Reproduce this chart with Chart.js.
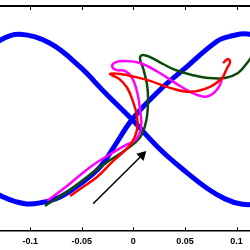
<!DOCTYPE html>
<html>
<head>
<meta charset="utf-8">
<script src="https://cdn.jsdelivr.net/npm/chart.js@4"></script>
<style>
  html, body { margin: 0; padding: 0; background: #fff; overflow: hidden; }
  #wrap { width: 250px; height: 250px; }
</style>
</head>
<body>
<div id="wrap"><canvas id="chart"></canvas></div>
<script>
// tick values / labels of the x axis
const tickValues = [-0.1, -0.05, 0, 0.05, 0.1];
const tickLabels = ['-0.1', '-0.05', '0', '0.05', '0.1'];

// blue figure-eight (runs past both side edges)
const blueX = [-0.1534, -0.1486, -0.1389, -0.1292, -0.1098, -0.0807, -0.0516, -0.0274, -0.0013,
  0.0258, 0.0501, 0.0724, 0.0889, 0.1034, 0.1179, 0.1344, 0.1499, 0.1547, 0.1470, 0.1305,
  0.1131, 0.0937, 0.0811, 0.0481, 0.0239, -0.0013, -0.0197, -0.0323, -0.0516, -0.0710,
  -0.0904, -0.1049, -0.1243, -0.1389, -0.1505, -0.1534];
const blueY = [-0.0010, 0.0378, 0.0649, 0.0765, 0.0823, 0.0736, 0.0504, 0.0252, -0.0010,
  -0.0300, -0.0514, -0.0688, -0.0785, -0.0833, -0.0833, -0.0736, -0.0446, -0.0010, 0.0475, 0.0717,
  0.0823, 0.0804, 0.0756, 0.0475, 0.0262, -0.0010, -0.0291, -0.0475, -0.0640, -0.0766,
  -0.0824, -0.0833, -0.0775, -0.0669, -0.0397, -0.0010];

// red trajectory
const redX = [-0.0613, -0.0516, -0.0352, -0.0197, -0.0090, -0.0013, 0.0036, 0.0036, -0.0003,
  -0.0060, -0.0138, -0.0226, -0.0129, 0.0016, 0.0162, 0.0356, 0.0549, 0.0743, 0.0859, 0.0908,
  0.0937, 0.0918, 0.0869];
const redY = [-0.0756, -0.0688, -0.0572, -0.0417, -0.0320, -0.0233, -0.0107, 0.0019, 0.0165,
  0.0301, 0.0388, 0.0436, 0.0436, 0.0407, 0.0368, 0.0300, 0.0262, 0.0310, 0.0397, 0.0494,
  0.0552, 0.0581, 0.0543];

// magenta trajectory
const magX = [-0.0836, -0.0643, -0.0420, -0.0226, -0.0080, 0.0026, 0.0075, 0.0065, 0.0036,
  -0.0013, -0.0080, -0.0167, -0.0206, -0.0168, -0.0080, 0.0065, 0.0239, 0.0404, 0.0568,
  0.0694, 0.0782, 0.0840, 0.0859];
const magY = [-0.0804, -0.0659, -0.0475, -0.0349, -0.0262, -0.0203, -0.0087, 0.0087, 0.0262,
  0.0397, 0.0465, 0.0475, 0.0514, 0.0552, 0.0562, 0.0543, 0.0455, 0.0349, 0.0252,
  0.0213, 0.0252, 0.0329, 0.0397];

// dark green trajectory
const greenX = [-0.0856, -0.0643, -0.0449, -0.0255, -0.0080, 0.0065, 0.0123, 0.0142, 0.0133,
  0.0094, 0.0065, 0.0084, 0.0162, 0.0288, 0.0404, 0.0568, 0.0723, 0.0888, 0.1014, 0.1102, 0.1179];
const greenY = [-0.0853, -0.0717, -0.0572, -0.0426, -0.0310, -0.0184, -0.0029, 0.0155, 0.0329,
  0.0494, 0.0581, 0.0620, 0.0601, 0.0533, 0.0475, 0.0426, 0.0397, 0.0397, 0.0446, 0.0543, 0.0649];

// arrow shaft and head
const arrowX = [-0.0390, 0.0084];
const arrowY = [-0.0833, -0.0359];
const headX = [0.0084];
const headY = [-0.0359];

function pts(xs, ys) {
  return xs.map((x, i) => ({ x: x, y: ys[i] }));
}

// top frame line + ticks drawn inward on the top and bottom frame lines
const frameTicks = {
  id: 'frameTicks',
  afterDraw(chart) {
    const ctx = chart.ctx;
    const a = chart.chartArea;
    const sx = chart.scales.x;
    ctx.save();
    ctx.fillStyle = '#000';
    ctx.fillRect(0, Math.round(a.top) - 1, chart.width, 2);
    tickValues.forEach(v => {
      const px = Math.round(sx.getPixelForValue(v));
      ctx.fillRect(px, a.top, 1, 4);
      ctx.fillRect(px, a.bottom - 4, 1, 4);
    });
    ctx.restore();
  }
};

function lineSet(data, color, width, order) {
  return {
    data: data,
    showLine: true,
    borderColor: color,
    backgroundColor: color,
    borderWidth: width,
    pointRadius: 0,
    tension: 0.4,
    order: order
  };
}

new Chart(document.getElementById('chart'), {
  type: 'scatter',
  data: {
    datasets: [
      lineSet(pts(blueX, blueY), '#0000ff', 5, 10),
      lineSet(pts(greenX, greenY), '#0a4a0a', 2.5, 3),
      lineSet(pts(magX, magY), '#ff00ff', 2.5, 2),
      lineSet(pts(redX, redY), '#ff0000', 2.5, 1),
      {
        data: pts(arrowX, arrowY),
        showLine: true,
        borderColor: '#000',
        borderWidth: 1.5,
        pointRadius: 0,
        tension: 0,
        order: 0
      },
      {
        data: pts(headX, headY),
        showLine: false,
        pointStyle: 'triangle',
        pointRotation: 45,
        pointRadius: 6,
        backgroundColor: '#000',
        borderColor: '#000',
        borderWidth: 0,
        order: 0
      }
    ]
  },
  options: {
    responsive: true,
    maintainAspectRatio: false,
    animation: false,
    layout: { autoPadding: false, padding: { top: 6, bottom: -2, left: 0, right: 0 } },
    plugins: { legend: { display: false }, tooltip: { enabled: false } },
    scales: {
      x: {
        type: 'linear',
        position: 'bottom',
        min: -0.1292,
        max: 0.1130,
        afterBuildTicks: scale => {
          scale.ticks = tickValues.map(v => ({ value: v }));
        },
        afterFit: scale => {
          scale.paddingLeft = 0;
          scale.paddingRight = 0;
        },
        grid: { display: false, drawTicks: false },
        border: { display: true, color: '#000', width: 1.5 },
        ticks: {
          color: '#000',
          padding: 5,
          maxRotation: 0,
          autoSkip: false,
          font: { family: 'Liberation Sans, Arial, sans-serif', size: 9, weight: 'bold' },
          callback: (v, i) => tickLabels[i]
        }
      },
      y: {
        type: 'linear',
        display: false,
        min: -0.1101,
        max: 0.1100
      }
    }
  },
  plugins: [frameTicks]
});
</script>
</body>
</html>
